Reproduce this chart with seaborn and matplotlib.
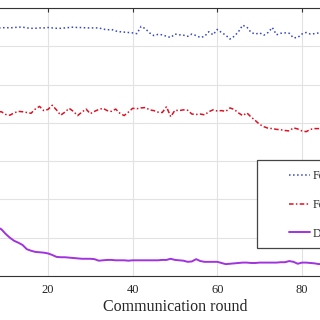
import numpy as np
import pandas as pd
import matplotlib
matplotlib.use("Agg")
import matplotlib.pyplot as plt
import seaborn as sns
from matplotlib.patches import Rectangle

# --- data ---
rounds = list(range(1, 101))

fedavg = [63.5, 64.2, 64.6, 64.8, 64.9, 64.8, 64.9, 64.8, 64.8, 64.9,
          64.8, 64.9, 65.0, 65.0, 64.8, 64.7, 64.7, 64.8, 64.8, 64.9,
          64.8, 64.7, 64.7, 64.8, 64.9, 65.0, 64.9, 64.9, 64.8, 64.8,
          64.8, 64.8, 64.5, 64.3, 64.4, 64.0, 63.8, 63.7, 63.6, 63.5,
          63.3, 65.2, 64.6, 63.5, 62.8, 63.1, 63.0, 62.6, 62.3, 63.2,
          63.0, 62.9, 62.6, 63.2, 62.8, 62.3, 62.6, 63.8, 63.0, 64.4,
          63.6, 62.9, 61.9, 62.6, 63.8, 65.5, 65.0, 63.6, 63.2, 63.5,
          62.9, 63.6, 64.9, 63.0, 63.4, 63.5, 63.4, 62.2, 62.3, 63.2,
          63.6, 63.2, 63.3, 63.5, 63.3, 63.1, 63.6, 63.4, 62.9, 63.3,
          63.7, 63.2, 63.0, 63.4, 63.5, 63.1, 63.3, 63.6, 63.2, 63.4]

fedprox = [42.5, 42.8, 43.0, 42.6, 43.1, 42.8, 43.2, 42.9, 42.9, 42.2,
           42.0, 42.6, 43.0, 42.9, 42.7, 42.5, 43.6, 44.3, 43.2, 43.5,
           44.6, 43.4, 42.0, 42.8, 43.8, 43.0, 41.9, 42.8, 43.6, 42.4,
           43.0, 43.5, 43.8, 43.2, 43.0, 43.6, 42.5, 41.9, 42.8, 43.8,
           43.7, 43.9, 44.0, 43.4, 43.2, 42.8, 42.7, 44.2, 41.6, 43.3,
           43.2, 43.4, 43.3, 42.3, 42.2, 42.3, 42.1, 42.9, 43.4, 43.1,
           43.2, 43.0, 43.9, 43.5, 42.6, 41.9, 42.6, 41.5, 40.6, 39.6,
           39.0, 38.6, 38.5, 38.3, 38.2, 38.0, 37.9, 38.7, 38.4, 37.9,
           37.7, 38.3, 38.5, 38.5, 38.3, 38.1, 38.4, 38.6, 38.2, 38.0,
           38.3, 38.5, 38.2, 38.1, 38.4, 38.3, 38.0, 38.2, 38.4, 38.3]

dfl = [30.0, 24.0, 20.0, 17.0, 15.5, 14.2, 13.3, 12.8, 12.2, 11.0,
       10.0, 9.2, 8.7, 8.1, 7.0, 6.6, 6.3, 6.2, 6.1, 5.9,
       5.5, 5.0, 4.9, 4.9, 4.8, 4.7, 4.6, 4.5, 4.5, 4.5,
       4.4, 4.0, 4.1, 4.2, 4.2, 4.1, 4.1, 4.1, 4.0, 4.1,
       4.1, 4.1, 4.1, 4.1, 4.1, 4.1, 4.2, 4.2, 4.5, 4.2,
       4.1, 4.0, 3.7, 3.8, 4.4, 3.9, 3.7, 3.7, 3.7, 3.7,
       3.4, 3.1, 3.2, 3.3, 3.4, 3.5, 3.5, 3.4, 3.4, 3.5,
       3.5, 3.5, 3.5, 3.5, 3.6, 3.6, 3.9, 3.7, 3.2, 3.5,
       3.5, 3.4, 3.3, 3.1, 3.2, 3.3, 3.1, 3.2, 3.2, 3.1,
       3.3, 3.2, 3.1, 3.2, 3.3, 3.1, 3.2, 3.2, 3.1, 3.2]

labels = ["FedAvg", "FedProx", "DFL"]
x_ticks = [0, 20, 40, 60, 80, 100]
y_ticks = [0, 10, 20, 30, 40, 50, 60, 70]

df = pd.DataFrame({"round": rounds, labels[0]: fedavg, labels[1]: fedprox, labels[2]: dfl})

sns.set_style("white")
plt.rcParams["font.family"] = ["Liberation Serif", "DejaVu Serif"]

fig = plt.figure(figsize=(3.2, 3.2), dpi=100)
# the original figure is cropped: axes run past the left and right edges
ax = fig.add_axes([-36.7 / 320, 44 / 320, 423.3 / 320, 268 / 320])

sns.lineplot(data=df, x="round", y=labels[0], ax=ax, color="#3344cc",
             linestyle=":", linewidth=1.1, label=labels[0], legend=False)
sns.lineplot(data=df, x="round", y=labels[1], ax=ax, color="#dd1122",
             linewidth=1.1, label=labels[1], legend=False)
sns.lineplot(data=df, x="round", y=labels[2], ax=ax, color="#a033dd",
             linestyle="-", linewidth=1.4, label=labels[2], legend=False)
ax.lines[1].set_dashes((3, 1.5, 1, 1.5))

ax.set_xlim(0, 100)
ax.set_ylim(0, 70)
ax.set_xticks(x_ticks)
ax.set_yticks(y_ticks)
ax.grid(True, color="#e2e2e2", linewidth=0.8)
ax.tick_params(direction="in", length=3, labelsize=9, top=True, right=True,
               color="#333333", pad=6)
for s in ax.spines.values():
    s.set_color("#333333")
    s.set_linewidth(0.8)
ax.set_xlabel("Communication round", fontsize=11.5, labelpad=2)
ax.set_ylabel("")

# legend box (MATLAB style, wide left padding)
fig.patches.append(Rectangle((257 / 320, 1 - 248 / 320), 80 / 320, 88 / 320,
                             transform=fig.transFigure, facecolor="white",
                             edgecolor="#444444", linewidth=0.9, zorder=3))
handles, lbls = ax.get_legend_handles_labels()
fig.legend(handles, lbls, loc="center left", bbox_to_anchor=(283 / 320, 1 - 205 / 320),
           frameon=False, fontsize=8.5, handlelength=1.8, handletextpad=0.2,
           labelspacing=1.4, borderpad=0)

fig.savefig("out.png", dpi=100)
